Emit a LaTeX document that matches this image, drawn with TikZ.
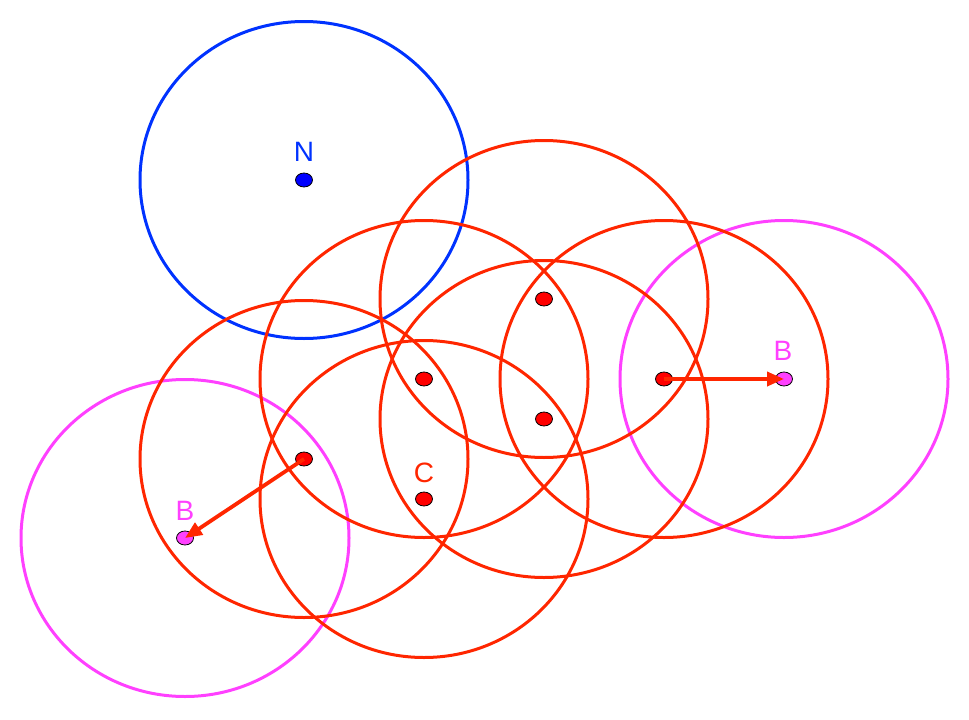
\documentclass[tikz,border=0pt]{standalone}
\usepackage{fontspec}
\setmainfont{Liberation Sans}
\usetikzlibrary{shapes.geometric,arrows.meta}
\definecolor{cred}{RGB}{255,38,0}
\definecolor{cblue}{RGB}{0,50,255}
\definecolor{cmag}{RGB}{255,64,255}
\definecolor{dred}{RGB}{255,0,0}
\definecolor{dblue}{RGB}{0,0,255}
\tikzset{
  ring/.style={ellipse,draw,line width=3pt,minimum width=328pt,minimum height=317pt,inner sep=0pt},
  dot/.style={ellipse,draw=black,line width=0.8pt,minimum width=17pt,minimum height=14pt,inner sep=0pt},
  lbl/.style={font=\fontsize{28}{28}\selectfont,inner sep=0pt},
  arr/.style={draw=cred,line width=3.8pt,-{Triangle[length=17pt,width=14pt]}},
}
\begin{document}
\begin{tikzpicture}[x=1pt,y=-1pt]
\useasboundingbox (0,0) rectangle (969,720);
% rings
\node[ring,draw=cblue] (cN) at (304,180) {};
\node[ring,draw=cmag] (cB1) at (784,379) {};
\node[ring,draw=cmag] (cB2) at (185,538) {};
\node[ring,draw=cred] (c1) at (544,299) {};
\node[ring,draw=cred] (c2) at (424,379) {};
\node[ring,draw=cred] (c3) at (664,379) {};
\node[ring,draw=cred] (c4) at (544,419) {};
\node[ring,draw=cred] (c5) at (304,459) {};
\node[ring,draw=cred] (c6) at (424,499) {};
% dots
\node[dot,fill=dblue] (dN) at (cN.center) {};
\node[dot,fill=dred] (d1) at (c1.center) {};
\node[dot,fill=dred] (d2) at (c2.center) {};
\node[dot,fill=dred] (d3) at (c3.center) {};
\node[dot,fill=dred] (d4) at (c4.center) {};
\node[dot,fill=dred] (d5) at (c5.center) {};
\node[dot,fill=dred] (d6) at (c6.center) {};
\node[dot,fill=cmag] (dB1) at (cB1.center) {};
\node[dot,fill=cmag] (dB2) at (cB2.center) {};
% arrows (drawn over the dots)
\draw[arr] (d3.center) -- (dB1.center);
\draw[arr] (d5.center) -- (dB2.center);
% labels
\node[lbl,text=cblue] (lN) at (304,152) {N};
\node[lbl,text=cmag] (lB1) at (783,351) {B};
\node[lbl,text=cred] (lC) at (424,473) {C};
\node[lbl,text=cmag] (lB2) at (185,511) {B};
\end{tikzpicture}
\end{document}
